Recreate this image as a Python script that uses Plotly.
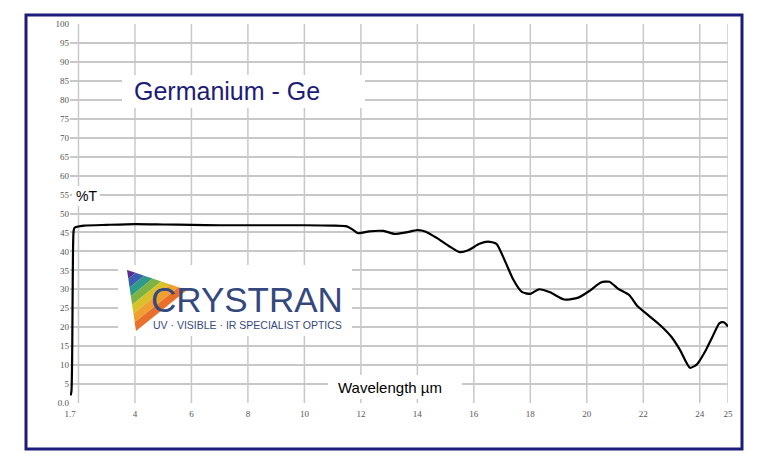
import plotly.graph_objects as go

wavelength = [1.72, 1.75, 1.78, 1.8, 1.83, 1.87, 1.95, 2.2, 3, 4, 5, 6, 7, 8, 9, 10, 11, 11.5, 11.7, 11.9,
              12.3, 12.8, 13.2, 13.6, 14.0, 14.3, 14.7, 15.1, 15.5, 15.8, 16.2, 16.5, 16.8, 17.1, 17.4,
              17.7, 18.0, 18.3, 18.7, 19.2, 19.7, 20.1, 20.5, 20.8, 21.1, 21.5, 21.8, 22.2, 22.6, 23.0,
              23.3, 23.65, 23.9, 24.2, 24.45, 24.7, 24.85, 25.0]
transmission = [2, 3, 15, 35, 45.5, 46.3, 46.5, 46.8, 47, 47.2, 47.1, 47, 46.9, 46.9, 46.9, 46.9, 46.8, 46.6, 45.8, 44.8,
                45.3, 45.4, 44.6, 45.0, 45.6, 45.2, 43.5, 41.5, 39.8, 40.3, 42.0, 42.6, 42.0, 37.5, 32.5,
                29.3, 28.8, 30.0, 29.2, 27.3, 27.8, 29.6, 31.8, 32.0, 30.2, 28.5, 25.5, 23.0, 20.5, 17.4,
                14.0, 9.3, 10.2, 13.7, 17.5, 21.1, 21.3, 20.2]

x_ticks = [1.7, 4, 6, 8, 10, 12, 14, 16, 18, 20, 22, 24, 25]
x_grid = [2, 4, 6, 8, 10, 12, 14, 16, 18, 20, 22, 24, 25]
y_ticks = list(range(0, 101, 5))
y_labels = ["0.0"] + [str(v) for v in y_ticks[1:]]

fig = go.Figure(go.Scatter(x=wavelength, y=transmission, mode="lines",
                           line=dict(color="black", width=2.2, shape="spline", smoothing=0.6),
                           hoverinfo="skip"))

OFF = 8  # page offset
W, H = 768, 461
L, T = 70 - OFF, 24 - OFF
R = W - (728 - OFF)
B = H - (403 - OFF)
pw, ph = W - L - R, H - T - B
def px(x): return (x - OFF - L) / pw
def py(y): return (H - B - (y - OFF)) / ph

shapes = []
for g in x_grid:
    shapes.append(dict(type="line", xref="x", yref="y", x0=g, x1=g, y0=-1.5, y1=100,
                       line=dict(color="#c8c8c8", width=1.5), layer="below"))
for (x0, y0, x1, y1) in [(122, 75, 365, 108), (118, 265, 352, 336), (328, 375, 462, 399), (72, 186, 100, 206)]:
    shapes.append(dict(type="rect", xref="paper", yref="paper", x0=px(x0), x1=px(x1), y0=py(y1), y1=py(y0),
                       fillcolor="white", line=dict(width=0), layer="above"))
A, Bv, C = (127, 270), (187, 290), (136, 331)
cols = ["#5b2d8e", "#3a5fb0", "#2f9a8a", "#7cb342", "#d9c12a", "#f0a030", "#e8702a"]
n = len(cols)
for i in range(n):
    t0, t1 = i / n, (i + 1) / n
    def pt(t, P): return (A[0] + t * (P[0] - A[0]), A[1] + t * (P[1] - A[1]))
    pts = [pt(t0, Bv), pt(t1, Bv), pt(t1, C), pt(t0, C)]
    path = "M " + " L ".join(f"{px(a):.4f},{py(b):.4f}" for a, b in pts) + " Z"
    shapes.append(dict(type="path", xref="paper", yref="paper", path=path,
                       fillcolor=cols[i], line=dict(width=0), layer="above"))
shapes.append(dict(type="rect", xref="paper", yref="paper", x0=px(26), x1=px(742), y0=py(449), y1=py(15),
                   line=dict(color="#1c1c78", width=3), layer="above"))

ann = [
    dict(text="Germanium - Ge", x=px(132), y=py(91), xanchor="left", yanchor="middle",
         font=dict(family="Liberation Sans", size=25, color="#1c1c78")),
    dict(text="%T", x=px(74), y=py(196), xanchor="left", yanchor="middle",
         font=dict(family="Liberation Sans", size=14, color="black")),
    dict(text="Wavelength µm", x=px(336), y=py(387), xanchor="left", yanchor="middle",
         font=dict(family="Liberation Sans", size=15, color="black")),
    dict(text="CRYSTRAN", x=px(149), y=py(299), xanchor="left", yanchor="middle",
         font=dict(family="Liberation Sans", size=35, color="#34487e")),
    dict(text="UV · VISIBLE · IR SPECIALIST OPTICS", x=px(151), y=py(325), xanchor="left", yanchor="middle",
         font=dict(family="Liberation Sans", size=10.5, color="#34487e")),
]
for a in ann:
    a.update(xref="paper", yref="paper", showarrow=False)

fig.update_layout(
    width=W, height=H, margin=dict(l=L, r=R, t=T, b=B),
    paper_bgcolor="white", plot_bgcolor="white", showlegend=False,
    shapes=shapes, annotations=ann,
    xaxis=dict(range=[1.7, 25], tickvals=x_ticks, ticktext=[str(v) for v in x_ticks],
               showgrid=False, zeroline=False, showline=False, ticks="", ticklabelstandoff=4,
               tickfont=dict(family="Liberation Serif", size=9, color="#555")),
    yaxis=dict(range=[0, 100], tickvals=y_ticks, ticktext=y_labels, showgrid=True,
               gridcolor="#c8c8c8", gridwidth=1.5, zeroline=False, showline=False, ticks="",
               tickfont=dict(family="Liberation Serif", size=9, color="#555")),
)
fig.write_html("out.html")
